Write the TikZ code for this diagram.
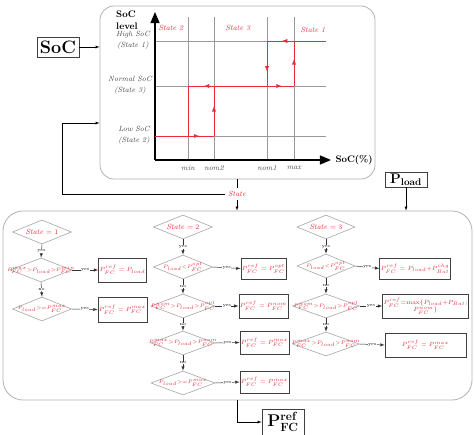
\documentclass[tikz,border=0pt]{standalone}
\usepackage{amsmath}
\usepackage[usenames]{xcolor}
\usepackage{tikz}
\usetikzlibrary{shapes,positioning,arrows,decorations.markings}

\DeclareMathSizes{5.5}{5.5}{3.8}{3}
\DeclareMathSizes{6.5}{6.5}{4.3}{3.5}
\definecolor{stred}{RGB}{230,45,60}
\definecolor{lvlgray}{RGB}{70,70,70}

\begin{document}
\begin{tikzpicture}[
		x=1pt,y=-1pt,
		panel/.style={
		  draw=gray!60,
		  rounded corners=14pt,
		  line width=0.8pt
		  },
		bigbox/.style={
		  draw=black!75,
		  line width=0.8pt,
		  inner sep=1pt,
		  font=\bfseries
		  },
		axis/.style={
		  line width=1.6pt,
		  -triangle 45
		  },
		grid/.style={
		  draw=gray!80,
		  line width=0.6pt
		  },
		hyst/.style={
		  draw=stred,
		  line width=0.9pt
		  },
		tip/.style={
		  postaction={decorate},
		  decoration={markings,mark=at position #1 with {\arrow[stred]{latex}}}
		  },
		lvl/.style={
		  text=lvlgray,
		  font=\fontsize{7.5}{11}\selectfont\itshape,
		  align=center
		  },
		tick/.style={
		  text=lvlgray,
		  font=\fontsize{7.5}{8}\selectfont\itshape
		  },
		stlbl/.style={
		  text=stred,
		  font=\fontsize{7.5}{8}\selectfont\itshape
		  },
		cond/.style={
		  diamond,
		  draw=gray!70,
		  line width=0.6pt,
		  inner sep=0pt,
		  minimum width=#1,
		  minimum height=24pt
		  },
		cond/.default=59pt,
		ctext/.style={
		  text=stred,
		  font=\fontsize{5.5}{6.5}\selectfont,
		  inner sep=0pt
		  },
		stext/.style={
		  text=stred,
		  font=\fontsize{7.5}{8}\selectfont,
		  inner sep=0pt
		  },
		res/.style={
		  draw=black!75,
		  line width=0.8pt,
		  text=stred,
		  font=\fontsize{6.5}{7.5}\selectfont,
		  align=center,
		  inner sep=1pt
		  },
		yn/.style={
		  fill=white,
		  font=\fontsize{4.5}{5}\selectfont,
		  inner sep=0.4pt
		  },
		flow/.style={
		  ->,
		  draw=black!80,
		  line width=0.5pt
		  },
		>=latex
		]
		\useasboundingbox (0,0) rectangle (474,434);

		% state of charge chart
		\node[panel, minimum width=275pt, minimum height=173pt] (chart) at (237.5,92.5) {};
		\node[bigbox, font=\bfseries\fontsize{18}{20}\selectfont, minimum width=42pt, minimum height=20pt] (soc) at (58,47) {SoC};
		\draw[->] (soc) -- (soc -| chart.west);

		\coordinate (O) at (155,160);
		\coordinate (xend) at (331,160);
		\coordinate (yend) at (155,12);
		\foreach \x in {188,214,267,294}
		  \draw[grid] (\x,17) -- (\x,160);
		\foreach \y in {41,86,136}
		  \draw[grid] (155,\y) -- (326,\y);
		\draw[axis] (O) -- (yend);
		\draw[axis] (O) -- (xend);
		\node[font=\bfseries\fontsize{9.5}{12}\selectfont, align=left] (ylbl) at (127,20) {SoC\\level};
		\node[font=\bfseries\fontsize{9.5}{10}\selectfont, right=1pt of xend] (xlbl) {SoC(\%)};
		\node[lvl] (high) at (133,40.5) {High SoC\\(State 1)};
		\node[lvl] (norm) at (130,85.5) {Normal SoC\\(State 3)};
		\node[lvl] (low) at (134,135.5) {Low SoC\\(State 2)};
		\foreach \x/\t in {188/min,214/nom2,267/nom1,294/max}
		  \node[tick] (t\t) at (\x,168) {\t};
		\node[stlbl] (s2) at (171,28) {State 2};
		\node[stlbl] (s3) at (238,28) {State 3};
		\node[stlbl] (s1) at (313,30) {State 1};

		% hysteresis
		\draw[hyst,tip=0.75] (155,136) -- (214,136);
		\draw[hyst,tip=0.6] (214,136) -- (214,86);
		\draw[hyst,tip=0.8] (267,86) -- (188,86);
		\draw[hyst] (188,86) -- (188,136);
		\draw[hyst,tip=0.55] (267,86) -- (294,86);
		\draw[hyst,tip=0.6] (294,86) -- (294,41);
		\draw[hyst,tip=0.75] (326,41) -- (267,41);
		\draw[hyst,tip=0.68] (267,41) -- (267,86);

		% state feedback and load
		\node[stlbl] (st) at (237,194) {State};
		\coordinate (fb) at (62,123);
		\draw (chart.south -| st) -- (st.north);
		\draw[->] (st.west) -| (fb) -- (fb -| chart.west);
		\node[bigbox, font=\bfseries\fontsize{14}{15}\selectfont, minimum width=42pt, minimum height=15pt] (pload) at (406,179.5) {P\textsubscript{load}};

		% control panel
		\node[panel, rounded corners=20pt, minimum width=469pt, minimum height=189pt] (ctrl) at (237.5,305.5) {};
		\draw[->] (st.south) -- (st |- ctrl.north);
		\draw[->] (pload.south) -- (pload |- ctrl.north);
		\node[bigbox, font=\bfseries\fontsize{17}{18}\selectfont, minimum width=42pt, minimum height=26pt] (pfcref) at (283,422) {P$^{\text{\bfseries ref}}_{\text{\bfseries FC}}$};
		\draw[->] (ctrl.south -| st) |- (pfcref.west);

		% state 1
		\node[cond, label={[stext]center:\textit{State} $=1$}] (c10) at (42,232) {};
		\node[cond=62pt, label={[ctext]center:$P_{FC}^{max}{>}P_{load}{>}P_{FC}^{min}$}] (c11) at (41,270) {};
		\node[cond, label={[ctext]center:$P_{load}{>}{=}P_{FC}^{max}$}] (c12) at (42,309) {};
		\node[res, minimum width=45pt, minimum height=24pt] (r11) at (122.5,270) {$P_{FC}^{ref}=P_{load}$};
		\node[res, minimum width=45pt, minimum height=25pt] (r12) at (122.5,309.5) {$P_{FC}^{ref}=P_{FC}^{max}$};
		\draw[flow] (c10.south) -- node[yn] {yes} (c11.north);
		\draw[flow] (c11.south) -- node[yn] {no} (c12.north);
		\draw[flow] (c11.east) -- node[yn] {yes} (r11.west);
		\draw[flow] (c12.east) -- node[yn] {yes} (r12.west);

		% state 2
		\node[cond, label={[stext]center:\textit{State} $=2$}] (c20) at (183,227) {};
		\node[cond, label={[ctext]center:$P_{load}{<}P_{FC}^{opt}$}] (c21) at (183,267) {};
		\node[cond=64pt, label={[ctext]center:$P_{FC}^{nom}{>}P_{load}{>}P_{FC}^{opt}$}] (c22) at (183,306) {};
		\node[cond=64pt, label={[ctext]center:$P_{FC}^{max}{>}P_{load}{>}P_{FC}^{nom}$}] (c23) at (183,343) {};
		\node[cond=64pt, label={[ctext]center:$P_{load}{>}{=}P_{FC}^{max}$}] (c24) at (183,383) {};
		\node[res, minimum width=45pt, minimum height=21pt] (r21) at (263.5,268.5) {$P_{FC}^{ref}=P_{FC}^{opt}$};
		\node[res, minimum width=45pt, minimum height=24pt] (r22) at (263.5,306) {$P_{FC}^{ref}=P_{FC}^{nom}$};
		\node[res, minimum width=43pt, minimum height=23pt] (r23) at (264.5,342.5) {$P_{FC}^{ref}=P_{FC}^{max}$};
		\node[res, minimum width=43pt, minimum height=22pt] (r24) at (264.5,382) {$P_{FC}^{ref}=P_{FC}^{max}$};
		\draw[flow] (c20.south) -- node[yn] {yes} (c21.north);
		\foreach \a/\b in {1/2,2/3,3/4}
		  \draw[flow] (c2\a.south) -- node[yn] {no} (c2\b.north);
		\foreach \a in {1,...,4}
		  \draw[flow] (c2\a.east) -- node[yn] {yes} (r2\a.west);

		% state 3
		\node[cond=58pt, label={[stext]center:\textit{State} $=3$}] (c30) at (326,227) {};
		\node[cond=58pt, label={[ctext]center:$P_{load}{<}P_{FC}^{opt}$}] (c31) at (326,266) {};
		\node[cond=67pt, label={[ctext]center:$P_{FC}^{nom}{>}P_{load}{>}P_{FC}^{opt}$}] (c32) at (326,306) {};
		\node[cond=67pt, label={[ctext]center:$P_{FC}^{max}{>}P_{load}{>}P_{FC}^{nom}$}] (c33) at (326,344) {};
		\node[res, minimum width=60pt, minimum height=21pt] (r31) at (415,268.5) {$P_{FC}^{ref}=P_{load}{+}P_{Bat}^{chg}$};
		\node[res, minimum width=81pt, minimum height=24pt] (r32) at (425.5,306) {$P_{FC}^{ref}{=}\mathrm{max}\{P_{load}{+}P_{Bat};$\\$P_{FC}^{nom}\}$};
		\node[res, minimum width=81pt, minimum height=24pt] (r33) at (425.5,345) {$P_{FC}^{ref}=P_{FC}^{max}$};
		\draw[flow] (c30.south) -- node[yn] {yes} (c31.north);
		\foreach \a/\b in {1/2,2/3}
		  \draw[flow] (c3\a.south) -- node[yn] {no} (c3\b.north);
		\foreach \a in {1,...,3}
		  \draw[flow] (c3\a.east) -- node[yn] {yes} (r3\a.west);
	\end{tikzpicture}
\end{document}
